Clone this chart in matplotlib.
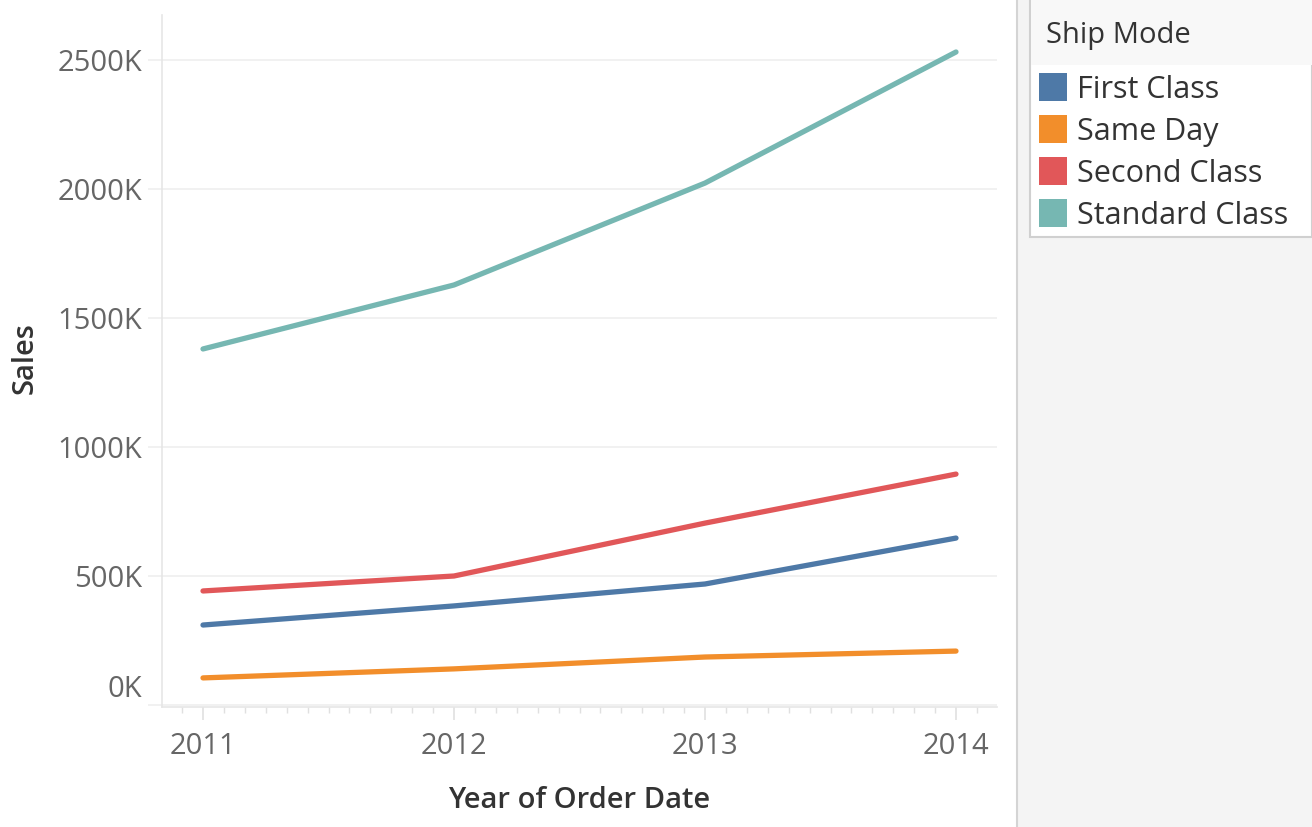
import matplotlib
matplotlib.use("Agg")
import matplotlib.pyplot as plt
import matplotlib.transforms as mtransforms
from matplotlib.patches import Rectangle
from matplotlib.lines import Line2D
from matplotlib.ticker import FixedLocator

plt.rcParams['font.family'] = ['Open Sans', 'DejaVu Sans']

years = [2011, 2012, 2013, 2014]
ship_modes = ["First Class", "Same Day", "Second Class", "Standard Class"]
first_class = [310, 384, 469, 647]
same_day = [105, 140, 186, 209]
second_class = [442, 500, 705, 895]
standard_class = [1380, 1628, 2023, 2531]
series = [first_class, same_day, second_class, standard_class]
colors = ["#4e79a7", "#f28e2b", "#e15759", "#76b7b2"]
y_ticks = [0, 500, 1000, 1500, 2000, 2500]
y_tick_labels = ["0K", "500K", "1000K", "1500K", "2000K", "2500K"]

W, H = 1312, 827
fig = plt.figure(figsize=(W / 100, H / 100), dpi=100)
fig.patch.set_facecolor("white")

def fx(px):
    return px / W

def fy(py):
    return 1 - py / H

# right panel background
fig.patches.append(Rectangle((fx(1017), 0), 1 - fx(1017), 1, transform=fig.transFigure,
                             facecolor="#f4f4f4", edgecolor="none", zorder=0))
fig.lines.append(Line2D([fx(1017), fx(1017)], [0, 1], transform=fig.transFigure,
                        color="#d4d4d4", lw=1.5))

ax_left, ax_right, ax_top, ax_bottom = 162, 997, 15, 707
ax = fig.add_axes([fx(ax_left), fy(ax_bottom), fx(ax_right) - fx(ax_left), fy(ax_top) - fy(ax_bottom)])

# scale: 0K at y=705, 0.258 px per K
zero_px = 705
scale = 0.258
ax.set_ylim(-(ax_bottom - zero_px) / scale, (zero_px - ax_top) / scale)
px_per_year = 251
x2011 = 203
ax.set_xlim(2011 - (x2011 - ax_left) / px_per_year, 2011 + (ax_right - x2011) / px_per_year)

for vals, c, name in zip(series, colors, ship_modes):
    ax.plot(years, vals, color=c, lw=3.8, solid_capstyle="round", label=name, zorder=3)

ax.set_yticks(y_ticks)
ax.set_yticklabels(y_tick_labels)
ax.grid(axis="y", color="#efefef", lw=1.2, zorder=0)
ax.set_xticks(years)
ax.set_xticklabels([str(y) for y in years])
minor = [y0 + m / 12 for y0 in range(2010, 2015) for m in range(12)]
ax.xaxis.set_minor_locator(FixedLocator(minor))

for s in ["top", "right"]:
    ax.spines[s].set_visible(False)
ax.spines["left"].set_color("#e6e6e6")
ax.spines["bottom"].set_color("#e6e6e6")
ax.spines["left"].set_linewidth(1.2)
ax.spines["bottom"].set_linewidth(1.2)

ax.tick_params(axis="y", length=10, color="#efefef", width=1.2, pad=4,
               labelsize=21, labelcolor="#666666")
ax.tick_params(axis="x", which="major", length=9, color="#e0e0e0", width=1.2, pad=9,
               labelsize=21, labelcolor="#666666")
ax.tick_params(axis="x", which="minor", length=4, color="#e0e0e0", width=1)

# nudge the 0K label upward like the reference
lbl0 = ax.get_yticklabels()[0]
lbl0.set_transform(lbl0.get_transform() + mtransforms.ScaledTranslation(0, 19 / 100, fig.dpi_scale_trans))

fig.text(fx(579), fy(800), "Year of Order Date", ha="center", va="center",
         fontsize=21, color="#333333", fontweight="semibold")
fig.text(fx(25), fy(358), "Sales", ha="center", va="center", rotation=90,
         fontsize=21, color="#333333", fontweight="semibold")

# legend box
lx0, ly0, lx1, ly1 = 1030, 0, 1312, 237
fig.patches.append(Rectangle((fx(lx0), fy(ly1)), fx(lx1) - fx(lx0), fy(ly0) - fy(ly1),
                             transform=fig.transFigure, facecolor="white",
                             edgecolor="#d0d0d0", lw=1.5, zorder=1))
fig.patches.append(Rectangle((fx(lx0 + 1), fy(65)), fx(lx1) - fx(lx0 + 1), fy(0) - fy(65),
                             transform=fig.transFigure, facecolor="#f8f8f8",
                             edgecolor="none", zorder=2))
fig.text(fx(1046), fy(35), "Ship Mode", ha="left", va="center", fontsize=21,
         color="#333333", zorder=3)
for i, (name, c) in enumerate(zip(ship_modes, colors)):
    cy = 87 + i * 42
    fig.patches.append(Rectangle((fx(1039), fy(cy + 14)), fx(1067) - fx(1039), fy(cy - 14) - fy(cy + 14),
                                 transform=fig.transFigure, facecolor=c, edgecolor="none", zorder=3))
    fig.text(fx(1077), fy(cy + 3), name, ha="left", va="center", fontsize=22,
             color="#333333", zorder=3)

fig.savefig("out.png", dpi=100)
